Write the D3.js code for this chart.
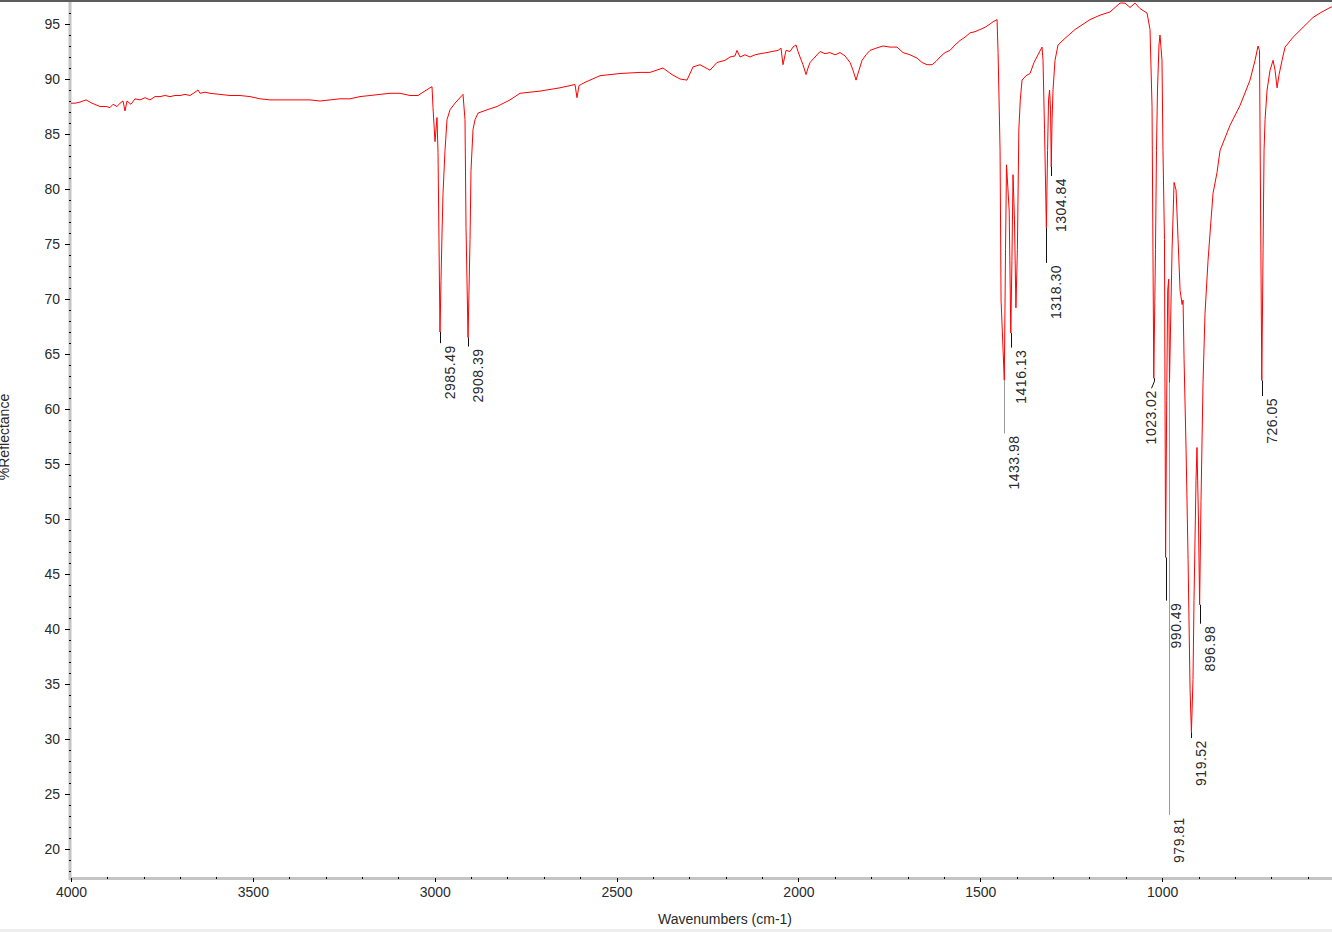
<!DOCTYPE html>
<html>
<head>
<meta charset="utf-8">
<script src="https://cdn.jsdelivr.net/npm/d3@7/dist/d3.min.js"></script>
<style>
  body { margin: 0; background: #fff; overflow: hidden; }
  svg { display: block; font-family: "Liberation Sans", Arial, sans-serif; }
</style>
</head>
<body>
<div id="chart"></div>
<script>
// Spectrum: [wavenumber cm-1, %Reflectance]
const baselineHigh = [
  [4000, 87.8], [3989.0, 87.8], [3975.3, 87.9], [3958.8, 88.1], [3942.3, 87.8], [3920.3, 87.5],
  [3903.8, 87.5], [3892.8, 87.4], [3884.5, 87.7], [3873.5, 87.5], [3865.3, 87.8], [3857.0, 88.0],
  [3851.5, 87.1], [3846.0, 88.0], [3835.0, 87.7], [3824.0, 88.2], [3810.3, 88.1], [3796.5, 88.3],
  [3782.8, 88.1], [3769.0, 88.4], [3755.3, 88.4], [3741.5, 88.5], [3727.8, 88.4], [3714.1, 88.5],
  [3700.3, 88.5], [3686.6, 88.6], [3672.8, 88.5], [3659.1, 88.8], [3650.8, 89.0], [3645.3, 88.7],
  [3631.6, 88.8], [3617.8, 88.7], [3590.3, 88.6], [3562.8, 88.5], [3535.3, 88.5], [3507.8, 88.4],
  [3480.4, 88.2], [3452.9, 88.1], [3425.4, 88.1], [3397.9, 88.1], [3370.4, 88.1], [3342.9, 88.1],
  [3315.4, 88.0], [3287.9, 88.1], [3260.4, 88.2], [3232.9, 88.2], [3205.4, 88.4], [3177.9, 88.5],
  [3150.4, 88.6], [3122.9, 88.7], [3095.4, 88.7], [3067.9, 88.5], [3045.9, 88.5], [3032.2, 88.8],
  [3012.9, 89.2], [3007.4, 89.3]
];

const chStretch = [
  [3004.7, 87.4], [2999.2, 84.3], [2993.7, 86.5], [2990.9, 83.3], [2985.49, 67.0], [2982.7, 71.7],
  [2979.9, 76.0], [2977.2, 79.6], [2971.7, 83.5], [2966.2, 86.3], [2957.9, 87.2], [2944.2, 87.8],
  [2924.9, 88.5], [2922.2, 88.6], [2916.7, 86.3], [2913.9, 76.5], [2908.39, 66.5], [2905.7, 70.8],
  [2902.9, 75.4], [2900.2, 81.7], [2894.7, 85.4], [2889.2, 86.3], [2880.9, 86.9], [2856.2, 87.2],
  [2828.7, 87.5], [2793.0, 88.1], [2765.5, 88.7]
];

const midRange = [
  [2710.5, 88.9], [2655.5, 89.2], [2614.3, 89.5], [2608.8, 88.3], [2603.3, 89.4], [2586.8, 89.7],
  [2545.5, 90.3], [2490.5, 90.5], [2435.5, 90.6], [2408.1, 90.6], [2372.3, 91.0], [2347.6, 90.4],
  [2325.6, 90.0], [2306.3, 89.9], [2289.8, 91.1], [2270.6, 91.3], [2243.1, 90.8], [2223.9, 91.5],
  [2201.9, 91.7], [2188.1, 92.0], [2174.4, 92.1], [2168.9, 92.6], [2160.6, 92.0], [2146.9, 92.2],
  [2133.1, 92.0], [2119.4, 92.2], [2105.6, 92.3], [2086.4, 92.4], [2072.6, 92.5], [2056.1, 92.6],
  [2047.9, 92.8], [2042.4, 91.3], [2034.1, 92.6], [2023.1, 92.5], [2014.9, 92.9], [2006.6, 93.1],
  [2001.1, 92.5], [1995.6, 92.0], [1987.4, 91.3], [1979.1, 90.4], [1973.6, 91.0], [1968.1, 91.5],
  [1957.1, 91.9], [1940.6, 92.5], [1926.9, 92.3], [1913.1, 92.4], [1899.4, 92.2], [1885.6, 92.4],
  [1871.9, 92.1], [1858.1, 91.5], [1849.9, 90.8], [1841.6, 89.9], [1833.4, 90.8], [1825.1, 91.7],
  [1814.1, 92.2], [1803.1, 92.6], [1786.6, 92.8], [1767.4, 93.0], [1748.1, 92.9], [1728.9, 92.9],
  [1712.4, 92.4], [1693.1, 92.2], [1673.9, 91.9], [1660.1, 91.5], [1646.4, 91.3], [1632.6, 91.3],
  [1621.6, 91.6], [1610.6, 92.0], [1596.9, 92.4], [1583.1, 92.6], [1569.4, 93.1], [1555.6, 93.5],
  [1541.9, 93.8], [1528.1, 94.2], [1514.4, 94.3], [1500.6, 94.5], [1486.9, 94.7], [1473.1, 95.0],
  [1464.9, 95.2], [1453.9, 95.4]
];

const fingerprint = [
  [1451.1, 92.4], [1448.4, 88.1], [1445.6, 83.5], [1442.9, 69.9], [1433.98, 62.6], [1430.6, 74.5],
  [1427.9, 82.2], [1424.0, 80.0], [1420.5, 78.0], [1416.13, 66.9], [1413.0, 73.5], [1410.0, 81.3],
  [1406.0, 77.2], [1402.0, 69.2], [1398.0, 74.5], [1394.0, 85.4], [1390.0, 88.1], [1385.2, 89.9],
  [1374.2, 90.3], [1363.2, 90.5], [1352.2, 91.5], [1341.3, 92.2], [1330.3, 92.9], [1327.5, 91.7],
  [1323.4, 85.4], [1318.30, 76.5], [1315.0, 83.5], [1312.3, 88.1], [1309.5, 89.0], [1306.8, 87.2],
  [1304.84, 82.0], [1302.7, 86.3], [1300.0, 89.0], [1294.5, 91.7], [1286.2, 93.1], [1267.0, 93.7],
  [1239.5, 94.5], [1198.3, 95.4], [1170.8, 95.8], [1143.3, 96.1], [1115.8, 96.9], [1102.1, 96.9],
  [1088.3, 96.5], [1074.6, 96.9], [1060.8, 96.4], [1041.6, 96.0], [1033.3, 94.5], [1027.8, 87.5],
  [1023.02, 62.8], [1018.3, 74.5], [1015.6, 83.5], [1012.8, 89.0], [1008.7, 93.1], [1005.9, 94.0],
  [1000.4, 91.7], [997.7, 83.5], [993.6, 75.4], [990.49, 46.5], [987.5, 60.8], [984.7, 70.8],
  [982.0, 71.8], [979.81, 62.4], [975.5, 69.9], [972.7, 74.5], [967.2, 80.6], [961.7, 79.9],
  [956.2, 75.4], [950.7, 70.8], [945.2, 69.5], [942.5, 69.9], [939.7, 64.5], [934.2, 56.3],
  [928.7, 46.3], [923.2, 34.5], [919.52, 30.6], [915.2, 35.4], [912.4, 42.6], [906.9, 53.5],
  [904.2, 56.5], [900.1, 49.9], [896.98, 42.2], [893.1, 51.7], [887.6, 62.4], [882.1, 68.7],
  [873.8, 73.5], [865.6, 77.2], [860.1, 79.6], [849.1, 81.5], [840.8, 83.5], [813.3, 85.8],
  [785.8, 87.6], [758.4, 89.9], [744.6, 91.7], [736.4, 93.0], [732.3, 92.6], [729.5, 79.0],
  [726.05, 62.6], [722.5, 74.5], [719.8, 83.5], [717.0, 86.3], [711.5, 89.0], [703.3, 90.8],
  [695.0, 91.7], [689.5, 90.8], [684.0, 89.2], [678.5, 90.4], [670.3, 91.7], [662.0, 92.9],
  [640.0, 93.8], [612.5, 94.7], [585.0, 95.6], [565.7, 96.0], [538.2, 96.5], [530.0, 96.6]
];

// Picked peaks
const peakWn = [2985.49, 2908.39, 1433.98, 1416.13, 1318.30, 1304.84, 1023.02, 990.49, 979.81, 919.52, 896.98, 726.05];
const peakText = ["2985.49", "2908.39", "1433.98", "1416.13", "1318.30", "1304.84", "1023.02", "990.49", "979.81", "919.52", "896.98", "726.05"];

// Tick values
const xMajor = [4000, 3500, 3000, 2500, 2000, 1500, 1000, 500];
const yMajor = [20, 25, 30, 35, 40, 45, 50, 55, 60, 65, 70, 75, 80, 85, 90, 95];

// Label layout: %R level where each label starts, and horizontal offsets
const labelLevel = [65.8, 65.5, 57.6, 65.4, 73.1, 81.0, 61.7, 42.4, 22.9, 29.9, 40.3, 61.0];
const labelDx = [10, 10, 10, 10, 10, 10, -3, 10, 10, 10, 10, 10];
const leaderGray = [false, false, true, false, false, false, false, false, true, false, false, false];

const spectrum = baselineHigh.concat(chStretch, midRange, fingerprint);

const width = 1332, height = 932;
const plotLeft = 70, plotTop = 2, plotBottom = 878;

const svg = d3.select("#chart")
  .append("svg")
  .attr("width", width)
  .attr("height", height);

const x = d3.scaleLinear().domain([4000, 500]).range([71, 1344]);
const y = d3.scaleLinear().domain([95, 20]).range([24, 849]);

// window frame bits
svg.append("rect").attr("x", 0).attr("y", 0).attr("width", width).attr("height", 2).attr("fill", "#5c5c5c");
svg.append("rect").attr("x", 0).attr("y", 929).attr("width", width).attr("height", 3).attr("fill", "#eeeeee");

svg.append("clipPath").attr("id", "plotClip")
  .append("rect")
  .attr("x", plotLeft).attr("y", plotTop)
  .attr("width", width - plotLeft).attr("height", plotBottom - plotTop);

// gray axis bars
svg.append("line")
  .attr("x1", plotLeft).attr("x2", plotLeft)
  .attr("y1", plotTop).attr("y2", plotBottom + 2)
  .attr("stroke", "#c4c4c4").attr("stroke-width", 3);
svg.append("line")
  .attr("x1", plotLeft - 1).attr("x2", width)
  .attr("y1", plotBottom + 0.5).attr("y2", plotBottom + 0.5)
  .attr("stroke", "#c4c4c4").attr("stroke-width", 3);

// Y axis
const yMinor = d3.range(18, 97).filter(v => v % 5 !== 0);
const yAxis = svg.append("g")
  .attr("transform", `translate(${plotLeft},0)`)
  .call(d3.axisLeft(y).tickValues(yMajor).tickSize(5).tickPadding(5));
svg.append("g")
  .attr("transform", `translate(${plotLeft + 1},0)`)
  .call(d3.axisLeft(y).tickValues(yMinor).tickSize(2).tickFormat(""));

// X axis
const xMinor = d3.range(600, 4000, 100).filter(v => v % 500 !== 0);
const xAxis = svg.append("g")
  .attr("transform", `translate(0,${plotBottom})`)
  .call(d3.axisBottom(x).tickValues(xMajor).tickSize(4).tickPadding(5).tickFormat(d3.format("d")));
svg.append("g")
  .attr("transform", `translate(0,${plotBottom - 1})`)
  .call(d3.axisBottom(x).tickValues(xMinor).tickSize(2).tickFormat(""));

svg.selectAll(".domain").remove();
svg.selectAll(".tick line").attr("stroke", "#000").attr("shape-rendering", "crispEdges");
svg.selectAll(".tick text")
  .attr("fill", "#2a2a2a")
  .style("font-size", "14px")
  .style("font-family", "'Liberation Sans', Arial, sans-serif");

// axis titles
svg.append("text")
  .attr("x", 725).attr("y", 924)
  .attr("text-anchor", "middle")
  .attr("fill", "#2a2a2a")
  .style("font-size", "14px")
  .text("Wavenumbers (cm-1)");

svg.append("text")
  .attr("transform", "translate(9,437) rotate(-90)")
  .attr("text-anchor", "middle")
  .attr("fill", "#2a2a2a")
  .style("font-size", "14px")
  .text("%Reflectance");

// spectrum
const line = d3.line()
  .x(d => x(d[0]))
  .y(d => y(d[1]));

svg.append("path")
  .datum(spectrum)
  .attr("clip-path", "url(#plotClip)")
  .attr("fill", "none")
  .attr("stroke", "#ff0000")
  .attr("stroke-width", 1)
  .attr("d", line);

// peak labels
const peaks = svg.append("g");
peakWn.forEach((wn, i) => {
  const tip = spectrum.find(d => d[0] === wn)[1];
  const px = Math.round(x(wn)) + 0.5;
  const tipY = y(tip);
  const endY = y(labelLevel[i]) - 2;
  let path;
  if (labelDx[i] < 0) {
    path = `M${px},${tipY}V${tipY + 3}L${px + labelDx[i]},${endY}`;
  } else {
    path = `M${px},${tipY}V${endY}`;
  }
  peaks.append("path")
    .attr("d", path)
    .attr("fill", "none")
    .attr("stroke", leaderGray[i] ? "#9a9a9a" : "#111")
    .attr("stroke-width", 1);

  peaks.append("text")
    .attr("transform", `translate(${px + labelDx[i]},${endY + 2}) rotate(-90)`)
    .attr("text-anchor", "end")
    .attr("dy", "0.35em")
    .attr("fill", "#2a2a2a")
    .style("font-size", "14px")
    .style("letter-spacing", "0.5px")
    .text(peakText[i]);
});
</script>
</body>
</html>
